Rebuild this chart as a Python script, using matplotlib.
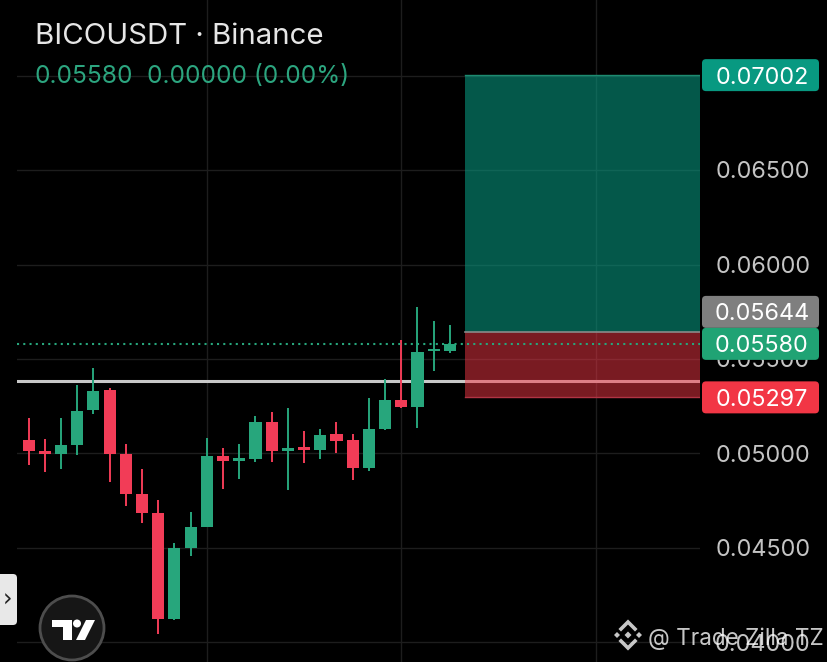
import matplotlib
matplotlib.use("Agg")
import matplotlib.pyplot as plt
from matplotlib.patches import Rectangle, FancyBboxPatch, Circle, Polygon
import numpy as np

# ---------------- data ----------------
opens = [0.05071, 0.05015, 0.04996, 0.05047, 0.05229, 0.05338, 0.04996, 0.04787, 0.04685,
         0.04124, 0.04498, 0.04611, 0.04989, 0.04960, 0.04971, 0.05165, 0.05015, 0.05033,
         0.05019, 0.05102, 0.05070, 0.04923, 0.05128, 0.05283, 0.05244, 0.05541, 0.05542]
closes = [0.05013, 0.04997, 0.05047, 0.05226, 0.05332, 0.04996, 0.04787, 0.04685, 0.04124,
          0.04498, 0.04611, 0.04989, 0.04960, 0.04976, 0.05165, 0.05015, 0.05031, 0.05017,
          0.05100, 0.05066, 0.04925, 0.05128, 0.05283, 0.05244, 0.05539, 0.05548, 0.05580]
highs = [0.05186, 0.05078, 0.05186, 0.05362, 0.05452, 0.05347, 0.05049, 0.04916, 0.04754,
         0.04525, 0.04692, 0.05080, 0.05030, 0.05049, 0.05197, 0.05220, 0.05242, 0.05117,
         0.05128, 0.05165, 0.05102, 0.05294, 0.05392, 0.05601, 0.05777, 0.05701, 0.05680]
lows = [0.04939, 0.04901, 0.04916, 0.04992, 0.05207, 0.04849, 0.04724, 0.04634, 0.04045,
        0.04119, 0.04459, 0.04611, 0.04811, 0.04865, 0.04957, 0.04955, 0.04807, 0.04948,
        0.04971, 0.05003, 0.04860, 0.04906, 0.05124, 0.05239, 0.05133, 0.05437, 0.05533]

price_ticks = [0.065, 0.060, 0.055, 0.050, 0.045, 0.040]
grid_prices = [0.040, 0.045, 0.050, 0.055, 0.060, 0.065, 0.070]
grid_bars = [11, 23, 35]

last_price = 0.05580
entry_price = 0.05644
target_price = 0.07002
stop_price = 0.05297
level_line = 0.05384
position_start = 26.94

title = "BICOUSDT · Binance"
quote_price = "0.05580"
quote_change = "0.00000 (0.00%)"
watermark = "@ Trade Zilla TZ"

# ---------------- style ----------------
W, H = 828, 662
UP = "#27a67c"
DOWN = "#f23c57"
GRID = "#1d1d1d"
FONT = "Inter"

fig = plt.figure(figsize=(W / 100, H / 100), dpi=100, facecolor="black")
ax = fig.add_axes([17 / W, 0, (700 - 17) / W, 1])
ax.set_facecolor("black")
ax.set_xlim(-0.716, 41.44)
ax.set_ylim(0.038968, 0.073995)
for s in ax.spines.values():
    s.set_visible(False)
ax.set_xticks([])
ax.set_yticks([])

# grid
for gp in grid_prices:
    ax.axhline(gp, color=GRID, lw=1, zorder=0)
for gb in grid_bars:
    ax.axvline(gb, color=GRID, lw=1, zorder=0)

# candles
idx = np.arange(len(opens))
o = np.array(opens); c = np.array(closes); h = np.array(highs); l = np.array(lows)
cols = [UP if cc >= oo else DOWN for oo, cc in zip(o, c)]
min_h = 2.0 / 18900
body_bottom = np.minimum(o, c)
body_h = np.maximum(np.abs(c - o), min_h)
ax.vlines(idx, l, h, colors=cols, lw=1.4, zorder=2)
ax.bar(idx, body_h, bottom=body_bottom, width=0.75, color=cols, lw=0, zorder=3)

# horizontal level line
ax.axhline(level_line, color="#c8c8c8", lw=2.2, zorder=1)

# position tool
right = 60
ax.add_patch(Rectangle((position_start, entry_price), right, target_price - entry_price,
                       facecolor="#089981", alpha=0.58, lw=0, zorder=4))
ax.add_patch(Rectangle((position_start, stop_price), right, entry_price - stop_price,
                       facecolor="#f23645", alpha=0.5, lw=0, zorder=4))
ax.plot([position_start, right], [target_price, target_price], color="#1d8b70", lw=1, zorder=5)
ax.plot([position_start, right], [entry_price, entry_price], color="#8a8a8a", lw=1.2, zorder=5)
ax.plot([position_start, right], [stop_price, stop_price], color="#b03444", lw=1, zorder=5)

# last price dotted line
ax.axhline(last_price, color=UP, lw=1.5, linestyle=(0, (1, 2)), zorder=6)

# ---------------- overlay in pixel coordinates ----------------
ov = fig.add_axes([0, 0, 1, 1], zorder=5)
ov.set_xlim(0, W); ov.set_ylim(0, H); ov.axis("off")
ov.patch.set_alpha(0)


def ypix(p):
    return ax.transData.transform((0, p))[1]


LABEL_FS = 16.8
cap = 0.727 * LABEL_FS * 100 / 72

for p in price_ticks:
    ov.text(763, ypix(p) - cap / 2, f"{p:.5f}", ha="center", va="baseline",
            fontsize=LABEL_FS, color="#c4c4c4", family=FONT, zorder=1)


def price_box(yc, text, color):
    r = 4
    ov.add_patch(FancyBboxPatch((702 + r, yc - 16 + r), 117 - 2 * r, 32 - 2 * r,
                                boxstyle=f"round,pad={r}", facecolor=color, lw=0, zorder=3))
    ov.text(762, yc - cap / 2, text, ha="center", va="baseline", fontsize=LABEL_FS,
            color="white", family=FONT, zorder=4)


y_last = ypix(last_price)
y_entry = max(ypix(entry_price), y_last + 32)
price_box(ypix(target_price), f"{target_price:.5f}", "#089981")
price_box(y_entry, f"{entry_price:.5f}", "#7f7f7f")
price_box(y_last, f"{last_price:.5f}", "#20a374")
price_box(ypix(stop_price), f"{stop_price:.5f}", "#f23645")

# header
ov.text(35, H - 44, title, fontsize=21.2, color="#e6e6e6", family=FONT, va="baseline")
ov.text(35, H - 83, quote_price, fontsize=17.6, color="#2ca57f", family=FONT, va="baseline")
ov.text(147, H - 83, quote_change, fontsize=17.6, color="#2ca57f", family=FONT, va="baseline")

# side button
ov.add_patch(FancyBboxPatch((-10, 41), 23, 43, boxstyle="round,pad=4",
                            facecolor="#e8e8e8", lw=0, zorder=3))
ov.text(8, 62, "›", ha="center", va="center", fontsize=17, color="#222222",
        family="DejaVu Sans", zorder=4)

# TradingView logo
ov.add_patch(Circle((72, 34), 32, facecolor="#161616", edgecolor="#4d4d4d", lw=2, zorder=3))
ov.add_patch(Polygon([(52, 42), (72, 42), (72, 22), (63, 22), (63, 35), (52, 35)],
                     closed=True, facecolor="white", lw=0, zorder=4))
ov.add_patch(Circle((77, 38.5), 4, facecolor="white", lw=0, zorder=4))
ov.add_patch(Polygon([(76, 22), (85, 22), (95, 42), (86, 42)], closed=True,
                     facecolor="white", lw=0, zorder=4))

# Binance logo + watermark
bc = (628, 27)
wm_col = (1, 1, 1, 0.78)


def diamond(cx, cy, s):
    return Polygon([(cx - s, cy), (cx, cy + s), (cx + s, cy), (cx, cy - s)], closed=True,
                   facecolor=wm_col, lw=0, zorder=6)


ov.add_patch(diamond(bc[0], bc[1], 3.5))
ov.add_patch(diamond(bc[0] - 11, bc[1], 3))
ov.add_patch(diamond(bc[0] + 11, bc[1], 3))
ov.plot([bc[0] - 7, bc[0], bc[0] + 7], [bc[1] + 6, bc[1] + 13, bc[1] + 6], color=wm_col,
        lw=2.6, solid_joinstyle="miter", zorder=6)
ov.plot([bc[0] - 7, bc[0], bc[0] + 7], [bc[1] - 6, bc[1] - 13, bc[1] - 6], color=wm_col,
        lw=2.6, solid_joinstyle="miter", zorder=6)
ov.text(648, 17, watermark, fontsize=16.2, color=wm_col, family=FONT, va="baseline", zorder=6)

fig.savefig("out.png", dpi=100, facecolor="black")
